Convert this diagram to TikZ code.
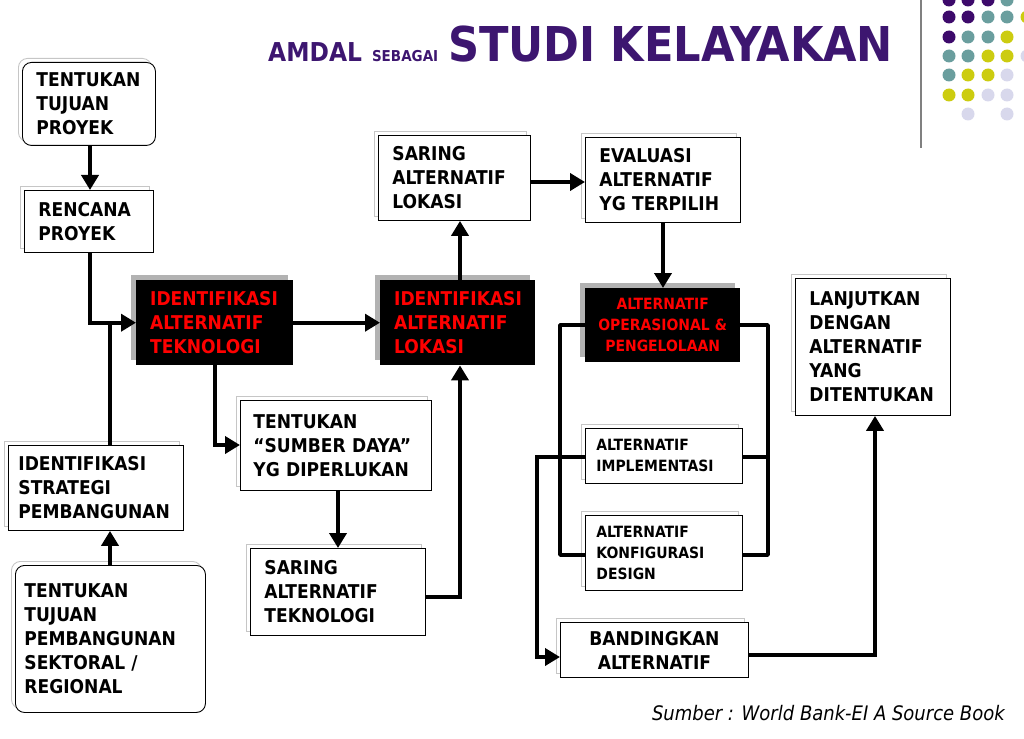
\documentclass[tikz,border=0pt]{standalone}
\usepackage{fontspec}
\setmainfont{DejaVu Sans Condensed}
\usetikzlibrary{arrows.meta}
\definecolor{pur}{HTML}{3D0A6B}
\definecolor{tea}{HTML}{6A9E9E}
\definecolor{yel}{HTML}{CCCC10}
\definecolor{lav}{HTML}{D8D8EC}
\definecolor{ttl}{HTML}{3D1670}
\begin{document}
\begin{tikzpicture}[x=1pt,y=-1pt,
 base/.style={anchor=north west,inner xsep=14pt,align=left,font=\bfseries\fontsize{19}{24}\selectfont},
 wbox/.style={base,draw=black,line width=0.9pt,fill=white,
   preaction={draw=gray!45,line width=0.9pt,transform canvas={shift={(-4pt,4pt)}}}},
 rbox/.style={wbox,rounded corners=9pt},
 bbox/.style={base,fill=black,text=red,preaction={fill=gray!60,transform canvas={shift={(-5pt,5pt)}}}},
 conn/.style={line width=3.8pt},
 arr/.style={conn,-{Triangle[length=15pt,width=17pt]}}]
\useasboundingbox (0,0) rectangle (1024,738);
% dots
\draw[gray,line width=1.5pt] (921,0) -- (921,148);
\foreach \x/\y/\c in {949/0/pur,968/0/pur,988/0/pur,1007/0/tea,
 949/17/pur,968/17/pur,988/17/tea,1007/17/tea,1027/17/yel,
 949/37/pur,968/37/tea,988/37/tea,1007/37/yel,
 949/56/tea,968/56/tea,988/56/yel,1007/56/yel,1027/56/lav,
 949/75/tea,968/75/yel,988/75/yel,1007/75/lav,
 949/95/yel,968/95/yel,988/95/lav,1007/95/lav,
 968/114/lav,1007/114/lav}
 \fill[\c] (\x,\y) circle (6.5pt);
% title
\node[anchor=base west,text=ttl,font=\bfseries,inner sep=0] (title) at (268,62)
 {{\fontsize{26}{29}\selectfont AMDAL}\hspace{10pt}{\fontsize{15}{18}\selectfont SEBAGAI}\hspace{10pt}{\fontsize{48}{52}\selectfont STUDI KELAYAKAN}};
% nodes
\node[rbox,minimum width=133pt,minimum height=83pt,text width=105pt] (t1) at (22,62) {TENTUKAN\\TUJUAN\\PROYEK};
\node[wbox,minimum width=129pt,minimum height=62pt,text width=101pt] (r) at (24,190) {RENCANA\\PROYEK};
\node[bbox,minimum width=157pt,minimum height=85pt,text width=129pt] (iat) at (136,280) {IDENTIFIKASI\\ALTERNATIF\\TEKNOLOGI};
\node[bbox,minimum width=155pt,minimum height=85pt,text width=127pt] (ial) at (380,280) {IDENTIFIKASI\\ALTERNATIF\\LOKASI};
\node[wbox,minimum width=152pt,minimum height=85pt,text width=124pt] (sal) at (378,135) {SARING\\ALTERNATIF\\LOKASI};
\node[wbox,minimum width=155pt,minimum height=85pt,text width=127pt] (eay) at (585,137) {EVALUASI\\ALTERNATIF\\YG TERPILIH};
\node[bbox,align=center,font=\bfseries\fontsize{15.5}{21}\selectfont,minimum width=155pt,minimum height=74pt,text width=145pt,inner xsep=5pt] (aop) at (585,288) {ALTERNATIF\\OPERASIONAL \&\\PENGELOLAAN};
\node[wbox,minimum width=155pt,minimum height=137pt,text width=127pt] (lda) at (795,278) {LANJUTKAN\\DENGAN\\ALTERNATIF\\YANG\\DITENTUKAN};
\node[wbox,minimum width=190pt,minimum height=90pt,text width=165pt,inner xsep=13pt] (tsd) at (240,400) {TENTUKAN\\“SUMBER DAYA”\\YG DIPERLUKAN};
\node[wbox,minimum width=175pt,minimum height=87pt,text width=147pt] (sat) at (250,548) {SARING\\ALTERNATIF\\TEKNOLOGI};
\node[wbox,minimum width=175pt,minimum height=85pt,text width=155pt,inner xsep=10pt] (isp) at (8,445) {IDENTIFIKASI\\STRATEGI\\PEMBANGUNAN};
\node[rbox,minimum width=190pt,minimum height=147pt,text width=172pt,inner xsep=9pt] (ttp) at (15,565) {TENTUKAN\\TUJUAN\\PEMBANGUNAN\\SEKTORAL /\\REGIONAL};
\node[wbox,font=\bfseries\fontsize{15.5}{21}\selectfont,minimum width=155pt,minimum height=55pt,text width=135pt,inner xsep=11pt] (ai) at (585,428) {ALTERNATIF\\IMPLEMENTASI};
\node[wbox,font=\bfseries\fontsize{15.5}{21}\selectfont,minimum width=155pt,minimum height=75pt,text width=135pt,inner xsep=11pt] (akd) at (585,515) {ALTERNATIF\\KONFIGURASI\\DESIGN};
\node[wbox,align=center,minimum width=188pt,minimum height=55pt,text width=160pt] (ba) at (560,622) {BANDINGKAN\\ALTERNATIF};
\node[anchor=base east,inner sep=0,font=\itshape\fontsize{20}{22}\selectfont] (src) at (1005,720) {Sumber : World Bank-EI A Source Book};
% connectors
\draw[arr] (t1.south -| 90,0) -- (r.north -| 90,0);
\draw[arr] (r.south -| 90,0) |- (iat.west);
\draw[conn] (isp.north -| 110,0) -- (110,322);
\draw[arr] (ttp.north -| 110,0) -- (isp.south -| 110,0);
\draw[arr] (iat.east) -- (ial.west);
\draw[arr] (iat.south -| 215,0) |- (tsd.west |- 0,445);
\draw[arr] (tsd.south -| 338,0) -- (sat.north -| 338,0);
\draw[arr] (sat.east |- 0,597) -| (ial.south -| 460,0);
\draw[arr] (ial.north -| 460,0) -- (sal.south -| 460,0);
\draw[arr] (sal.east |- 0,182) -- (eay.west |- 0,182);
\draw[arr] (eay.south -| 663,0) -- (aop.north -| 663,0);
\draw[conn,line join=round] (aop.west |- 0,325) -| (560,555) -- (akd.west |- 0,555);
\draw[conn,line join=round] (aop.east |- 0,325) -| (768,555) -- (akd.east |- 0,555);
\draw[conn] (ai.east |- 0,457) -- (768,457);
\draw[arr] (ai.west |- 0,457) -| (537,657) -- (ba.west |- 0,657);
\draw[arr] (ba.east |- 0,655) -| (lda.south -| 875,0);
\end{tikzpicture}
\end{document}
